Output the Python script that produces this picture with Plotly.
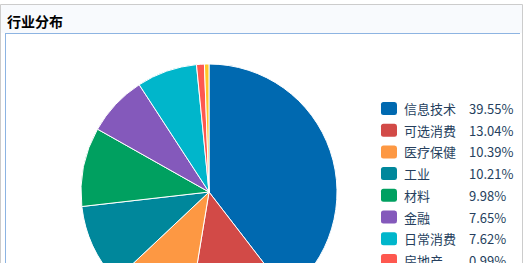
import plotly.graph_objects as go

# ---- data ----
title_text = "行业分布"
sectors = ["信息技术", "可选消费", "医疗保健", "工业", "材料", "金融", "日常消费", "房地产", "公用事业"]
weights = [39.55, 13.04, 10.39, 10.21, 9.98, 7.65, 7.62, 0.99, 0.57]
colors = ["#0069b0", "#d24a47", "#fd9843", "#00879b", "#00a060", "#8459bb", "#00b6cb", "#fe584f", "#ffc62a"]

W, H = 526, 400

def px_x(x):
    return x / W

def px_y(y):
    return 1 - y / H

# pie geometry (pixels)
cx, cy, r = 209, 192, 128

fig = go.Figure()
fig.add_trace(go.Pie(
    labels=sectors,
    values=weights,
    sort=False,
    direction="clockwise",
    rotation=0,
    marker=dict(colors=colors, line=dict(color="#ffffff", width=1)),
    textinfo="none",
    hoverinfo="label+percent",
    showlegend=False,
    domain=dict(x=[px_x(cx - r), px_x(cx + r)], y=[px_y(cy + r), px_y(cy - r)]),
))

shapes = []
# outer gray frame
shapes.append(dict(type="rect", xref="paper", yref="paper",
                   x0=px_x(0.5), x1=px_x(522.5), y0=px_y(H + 10), y1=px_y(4.5),
                   line=dict(color="#cccccc", width=1), fillcolor="rgba(0,0,0,0)", layer="below"))
# header background
shapes.append(dict(type="rect", xref="paper", yref="paper",
                   x0=px_x(1), x1=px_x(522), y0=px_y(33), y1=px_y(5),
                   line=dict(width=0), fillcolor="#f8fafd", layer="below"))
# inner blue panel border
shapes.append(dict(type="line", xref="paper", yref="paper",
                   x0=px_x(5), x1=px_x(520), y0=px_y(33.5), y1=px_y(33.5),
                   line=dict(color="#8db4e2", width=1)))
shapes.append(dict(type="line", xref="paper", yref="paper",
                   x0=px_x(5.5), x1=px_x(5.5), y0=px_y(33.5), y1=px_y(H + 10),
                   line=dict(color="#8db4e2", width=1)))

annotations = [dict(text="<b>" + title_text + "</b>", xref="paper", yref="paper",
                    x=px_x(5), y=px_y(21), xanchor="left", yanchor="middle", showarrow=False,
                    font=dict(family="Noto Sans CJK SC", size=14, color="#000000"))]

# custom legend
row0, step = 108.5, 21.7
sq_x0, sq_w, sq_h, rad = 381, 16, 13, 2.5
for i, (name, val, col) in enumerate(zip(sectors, weights, colors)):
    yc = row0 + i * step
    x0, x1 = sq_x0, sq_x0 + sq_w
    y0, y1 = yc - sq_h / 2, yc + sq_h / 2
    # rounded rect path in pixel coordinates converted to paper
    def P(x, y):
        return f"{px_x(x):.5f},{px_y(y):.5f}"
    path = (f"M {P(x0 + rad, y0)} L {P(x1 - rad, y0)} Q {P(x1, y0)} {P(x1, y0 + rad)} "
            f"L {P(x1, y1 - rad)} Q {P(x1, y1)} {P(x1 - rad, y1)} "
            f"L {P(x0 + rad, y1)} Q {P(x0, y1)} {P(x0, y1 - rad)} "
            f"L {P(x0, y0 + rad)} Q {P(x0, y0)} {P(x0 + rad, y0)} Z")
    shapes.append(dict(type="path", xref="paper", yref="paper", path=path,
                       fillcolor=col, line=dict(width=0)))
    annotations.append(dict(text=name, xref="paper", yref="paper", x=px_x(402), y=px_y(yc),
                            xanchor="left", yanchor="middle", showarrow=False,
                            font=dict(family="Noto Sans CJK SC", size=13, color="#263f5e")))
    annotations.append(dict(text=f"{val:.2f}%", xref="paper", yref="paper", x=px_x(467), y=px_y(yc),
                            xanchor="left", yanchor="middle", showarrow=False,
                            font=dict(family="Noto Sans CJK SC", size=13, color="#263f5e")))

fig.update_layout(
    width=W, height=H,
    margin=dict(l=0, r=0, t=0, b=0),
    paper_bgcolor="#ffffff",
    plot_bgcolor="#ffffff",
    shapes=shapes,
    annotations=annotations,
)

fig.write_html("out.html")
